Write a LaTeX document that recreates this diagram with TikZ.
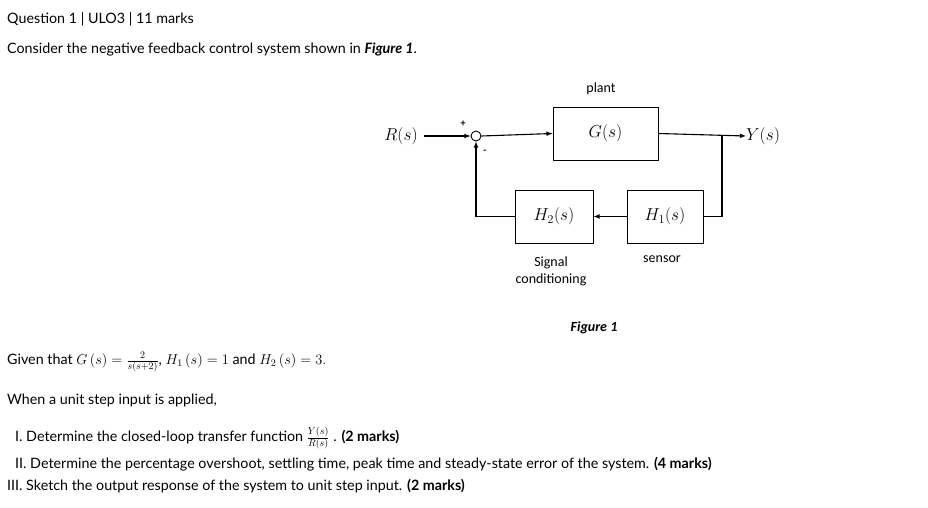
\documentclass[tikz,border=0pt]{standalone}
\usepackage{fontspec}
\setmainfont{Lato}
\newfontfamily\calib{Carlito}
\begin{document}
\begin{tikzpicture}[x=1pt,y=-1pt,
  txt/.style={anchor=west,inner sep=0pt,font=\fontsize{14.3}{17}\selectfont},
  blk/.style={draw,line width=0.9pt,minimum width=#1},
  bm/.style={font=\fontsize{18}{20}\selectfont},
  lbl/.style={font=\calib\fontsize{14}{17}\selectfont,align=center,inner sep=0pt},
  sig/.style={line width=1.1pt},
  arr/.style={sig,-latex}]
\useasboundingbox (0,0) rectangle (928,508);
\node[txt] (q) at (7,19) {Question 1 | ULO3 | 11 marks};
\node[txt] (c) at (7,50) {Consider the negative feedback control system shown in \textbf{\textit{Figure 1}}.};
% diagram
\node[inner sep=0pt,bm] (R) at (401,136) {$R(s)$};
\node[draw,circle,line width=0.9pt,inner sep=0pt,minimum size=10pt] (sum) at (476,136) {};
\node[blk=105pt,minimum height=53pt,bm] (G) at (605.5,133.5) {$G(s)$};
\node[blk=76pt,minimum height=53pt,bm] (H1) at (665,216.5) {$H_1(s)$};
\node[blk=78pt,minimum height=53pt,bm] (H2) at (554,216.5) {$H_2(s)$};
\node[inner sep=0pt,bm] (Y) at (763,136) {$Y(s)$};
\coordinate (br) at (722,136);
\node[lbl] (pl) at (601,89) {plant};
\node[lbl] (sc) at (551,271) {Signal\\conditioning};
\node[lbl] (se) at (662,259) {sensor};
\node[lbl,font=\calib\bfseries\itshape\fontsize{14}{17}\selectfont] (f1) at (594,328) {Figure 1};
\node[inner sep=0pt,font=\calib\bfseries] (pls) at (463,124) {+};
\node[inner sep=0pt,font=\calib\bfseries] (mns) at (485,152) {-};
\draw[arr] (R.east)+(6,0) -- (sum.west);
\draw[arr] (sum.east) -- (G.west);
\draw[arr] (G.east) -- (Y.west);
\draw[sig] (br) |- (H1.east);
\draw[arr] (H1.west) -- (H2.east);
\draw[arr] (H2.west) -| (sum.south);
% text
\node[txt] (g) at (7,362) {Given that $G\left(s\right)=\frac{2}{s(s+2)}$, $H_1\left(s\right)=1$ and $H_2\left(s\right)=3.$};
\node[txt] (w) at (7,400) {When a unit step input is applied,};
\node[txt] (i1) at (15,438) {I. Determine the closed-loop transfer function $\frac{Y(s)}{R(s)}$ . \textbf{(2 marks)}};
\node[txt] (i2) at (15,464) {II. Determine the percentage overshoot, settling time, peak time and steady-state error of the system. \textbf{(4 marks)}};
\node[txt] (i3) at (7,486) {III. Sketch the output response of the system to unit step input. \textbf{(2 marks)}};
\end{tikzpicture}
\end{document}
